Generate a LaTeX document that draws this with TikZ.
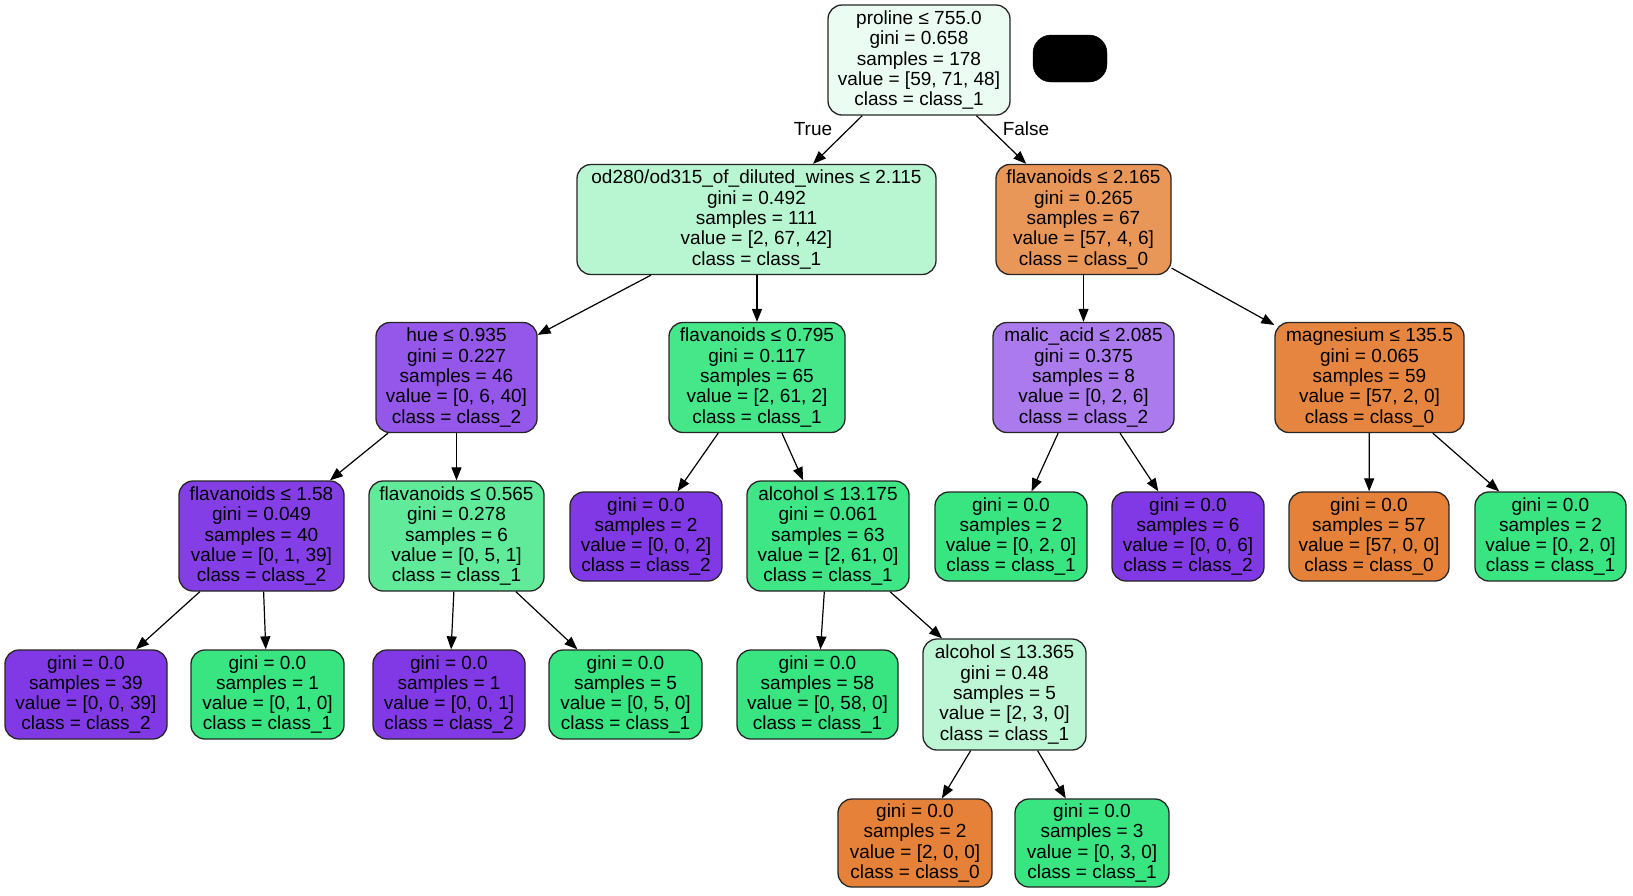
\documentclass[tikz,border=0pt]{standalone}
\usepackage{fontspec}
\setmainfont{Liberation Sans}
\usetikzlibrary{arrows.meta}
\definecolor{cRoot}{HTML}{EBFCF2}
\definecolor{cNa}{HTML}{B7F6D1}
\definecolor{cNb}{HTML}{E99659}
\definecolor{cHue}{HTML}{9457E9}
\definecolor{cFlA}{HTML}{45E789}
\definecolor{cMal}{HTML}{AB7BEE}
\definecolor{cMag}{HTML}{E68540}
\definecolor{cFlB}{HTML}{843EE6}
\definecolor{cFlC}{HTML}{61EA9A}
\definecolor{cAlA}{HTML}{3FE685}
\definecolor{cAlB}{HTML}{BDF6D5}
\definecolor{cG}{HTML}{39E581}
\definecolor{cP}{HTML}{8139E5}
\definecolor{cO}{HTML}{E58139}
\tikzset{
  box/.style={draw=black!85, line width=1.3pt, rounded corners=14pt, align=center,
    inner sep=0pt, font=\fontsize{19}{20.3}\selectfont},
  inner/.style={box, minimum height=110pt},
  leaf/.style={box, minimum height=89pt},
  arr/.style={line width=1.2pt, -{Triangle[length=13pt,width=10pt]}},
  elab/.style={font=\fontsize{19}{20}\selectfont, inner sep=0pt}
}
\begin{document}
\begin{tikzpicture}[x=1pt,y=-1pt]
\useasboundingbox[fill=white] (0,0) rectangle (1633,895);
% root and legend blob
\node[inner, minimum width=182pt, fill=cRoot] (r) at (919,60) {proline ≤ 755.0\\gini = 0.658\\samples = 178\\value = [59, 71, 48]\\class = class\_1};
\node[draw=black, fill=black, rounded corners=18pt, minimum width=74pt, minimum height=47pt, inner sep=0pt] (blob) at (1070,58.5) {};
% level 1
\node[inner, minimum width=359pt, fill=cNa] (n1) at (756.5,219.5) {od280/od315\_of\_diluted\_wines ≤ 2.115\\gini = 0.492\\samples = 111\\value = [2, 67, 42]\\class = class\_1};
\node[inner, minimum width=175pt, fill=cNb] (n2) at (1083.5,219.5) {flavanoids ≤ 2.165\\gini = 0.265\\samples = 67\\value = [57, 4, 6]\\class = class\_0};
% level 2
\node[inner, minimum width=161pt, fill=cHue] (n3) at (456.5,377.5) {hue ≤ 0.935\\gini = 0.227\\samples = 46\\value = [0, 6, 40]\\class = class\_2};
\node[inner, minimum width=176pt, fill=cFlA] (n4) at (757,377.5) {flavanoids ≤ 0.795\\gini = 0.117\\samples = 65\\value = [2, 61, 2]\\class = class\_1};
\node[inner, minimum width=181pt, fill=cMal] (n5) at (1083.5,377.5) {malic\_acid ≤ 2.085\\gini = 0.375\\samples = 8\\value = [0, 2, 6]\\class = class\_2};
\node[inner, minimum width=189pt, fill=cMag] (n6) at (1369.5,377.5) {magnesium ≤ 135.5\\gini = 0.065\\samples = 59\\value = [57, 2, 0]\\class = class\_0};
% level 3
\node[inner, minimum width=165pt, fill=cFlB] (n7) at (261.5,536) {flavanoids ≤ 1.58\\gini = 0.049\\samples = 40\\value = [0, 1, 39]\\class = class\_2};
\node[inner, minimum width=175pt, fill=cFlC] (n8) at (456.5,536) {flavanoids ≤ 0.565\\gini = 0.278\\samples = 6\\value = [0, 5, 1]\\class = class\_1};
\node[leaf, minimum width=152pt, fill=cP] (n9) at (646,536.5) {gini = 0.0\\samples = 2\\value = [0, 0, 2]\\class = class\_2};
\node[inner, minimum width=162pt, fill=cAlA] (n10) at (828,536) {alcohol ≤ 13.175\\gini = 0.061\\samples = 63\\value = [2, 61, 0]\\class = class\_1};
\node[leaf, minimum width=152pt, fill=cG] (n11) at (1011,536.5) {gini = 0.0\\samples = 2\\value = [0, 2, 0]\\class = class\_1};
\node[leaf, minimum width=152pt, fill=cP] (n12) at (1188,536.5) {gini = 0.0\\samples = 6\\value = [0, 0, 6]\\class = class\_2};
\node[leaf, minimum width=160pt, fill=cO] (n13) at (1369,536.5) {gini = 0.0\\samples = 57\\value = [57, 0, 0]\\class = class\_0};
\node[leaf, minimum width=151pt, fill=cG] (n14) at (1550.5,536.5) {gini = 0.0\\samples = 2\\value = [0, 2, 0]\\class = class\_1};
% level 4
\node[leaf, minimum width=162pt, fill=cP] (n15) at (86,694.5) {gini = 0.0\\samples = 39\\value = [0, 0, 39]\\class = class\_2};
\node[leaf, minimum width=153pt, fill=cG] (n16) at (267.5,694.5) {gini = 0.0\\samples = 1\\value = [0, 1, 0]\\class = class\_1};
\node[leaf, minimum width=152pt, fill=cP] (n17) at (449,694.5) {gini = 0.0\\samples = 1\\value = [0, 0, 1]\\class = class\_2};
\node[leaf, minimum width=153pt, fill=cG] (n18) at (625.5,694.5) {gini = 0.0\\samples = 5\\value = [0, 5, 0]\\class = class\_1};
\node[leaf, minimum width=161pt, fill=cG] (n19) at (817.5,694.5) {gini = 0.0\\samples = 58\\value = [0, 58, 0]\\class = class\_1};
\node[inner, minimum width=163pt, minimum height=111pt, fill=cAlB] (n20) at (1004.5,694.5) {alcohol ≤ 13.365\\gini = 0.48\\samples = 5\\value = [2, 3, 0]\\class = class\_1};
% level 5
\node[leaf, minimum width=154pt, minimum height=88pt, fill=cO] (n21) at (915,843) {gini = 0.0\\samples = 2\\value = [2, 0, 0]\\class = class\_0};
\node[leaf, minimum width=154pt, minimum height=88pt, fill=cG] (n22) at (1092,843) {gini = 0.0\\samples = 3\\value = [0, 3, 0]\\class = class\_1};
% edges
\draw[arr] (r) -- (n1);
\draw[arr] (r) -- (n2);
\draw[arr] (n1) -- (n3);
\draw[arr] (n1.south -| n4) -- (n4);
\draw[arr] (n2) -- (n5);
\draw[arr] (n2) -- (n6);
\draw[arr] (n3) -- (n7);
\draw[arr] (n3) -- (n8);
\draw[arr] (n4) -- (n9);
\draw[arr] (n4) -- (n10);
\draw[arr] (n5) -- (n11);
\draw[arr] (n5) -- (n12);
\draw[arr] (n6) -- (n13);
\draw[arr] (n6) -- (n14);
\draw[arr] (n7) -- (n15);
\draw[arr] (n7) -- (n16);
\draw[arr] (n8) -- (n17);
\draw[arr] (n8) -- (n18);
\draw[arr] (n10) -- (n19);
\draw[arr] (n10) -- (n20);
\draw[arr] (n20) -- (n21);
\draw[arr] (n20) -- (n22);
% edge labels
\node[elab] (lt) at (813,129) {True};
\node[elab] (lf) at (1026,129) {False};
\end{tikzpicture}
\end{document}
